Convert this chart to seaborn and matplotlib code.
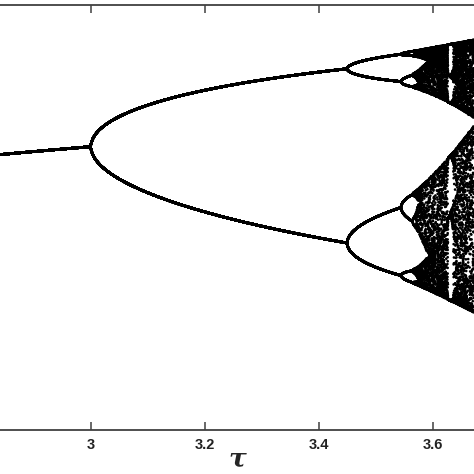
import numpy as np
import pandas as pd
import matplotlib
matplotlib.use("Agg")
import matplotlib.pyplot as plt
import seaborn as sns

# Parameter range shown in the (cropped) picture and the iteration settings
tau_start = 2.8403
tau_stop = 3.672
tau_step = 0.0005
x0 = 0.5
n_transient = 1500
n_keep = 40

tick_values = [3.0, 3.2, 3.4, 3.6]
tick_labels = ["3", "3.2", "3.4", "3.6"]

# Logistic map attractor for each tau
taus = np.arange(tau_start, tau_stop, tau_step)
x = np.full(taus.shape, x0)
for _ in range(n_transient):
    x = taus * x * (1 - x)
rows_tau = []
rows_x = []
for _ in range(n_keep):
    x = taus * x * (1 - x)
    rows_tau.append(taus.copy())
    rows_x.append(x.copy())

df = pd.DataFrame({"tau": np.concatenate(rows_tau), "x": np.concatenate(rows_x)})

sns.set_style("white")
fig = plt.figure(figsize=(4.74, 4.74), dpi=100)
ax = fig.add_axes([0, 0.0928, 1, 0.8967])

sns.scatterplot(data=df, x="tau", y="x", s=3.6, color="black", linewidth=0,
                edgecolor="none", ax=ax, rasterized=True, legend=False)

ax.set_xlim(tau_start, tau_stop)
ax.set_ylim(0, 1)
ax.set_xticks(tick_values)
ax.set_xticklabels(tick_labels, fontsize=10.5, fontweight="bold", color="#222222",
                   family="Liberation Sans")
ax.set_yticks([])
ax.tick_params(axis="x", direction="in", length=6, width=1.1, color="#404040",
               top=True, bottom=True, pad=6)
for side in ["left", "right"]:
    ax.spines[side].set_visible(False)
for side in ["top", "bottom"]:
    ax.spines[side].set_color("#404040")
    ax.spines[side].set_linewidth(1.3)

ax.set_xlabel("τ", fontsize=19, fontstyle="italic", fontweight="bold",
              family="DejaVu Serif", labelpad=-4)
ax.set_ylabel("")

fig.savefig("out.png", dpi=100)
